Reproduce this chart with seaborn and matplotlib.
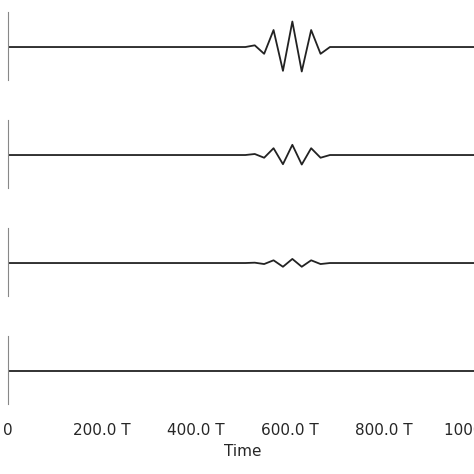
import matplotlib
matplotlib.use("Agg")
import matplotlib.pyplot as plt
import seaborn as sns
import pandas as pd

sns.set_style("white")

# extrema of each wave packet (time in T, amplitude)
times = [0, 505, 525, 545, 565, 585, 605, 625, 645, 665, 685, 1000]
amp_1 = [0, 0, 0.05, -0.2, 0.5, -0.7, 0.75, -0.72, 0.5, -0.2, 0, 0]
amp_2 = [0, 0, 0.03, -0.08, 0.2, -0.27, 0.3, -0.28, 0.2, -0.08, 0, 0]
amp_3 = [0, 0, 0.01, -0.03, 0.08, -0.11, 0.12, -0.11, 0.08, -0.03, 0, 0]
amp_4 = [0] * len(times)
series = [amp_1, amp_2, amp_3, amp_4]

tick_vals = [0, 200, 400, 600, 800, 1000]
tick_labels = ["0", "200.0 T", "400.0 T", "600.0 T", "800.0 T", "1000.0 T"]

fig = plt.figure(figsize=(4.74, 4.74), dpi=100)
tops = [12, 120, 228, 336]
for i, (top, amp) in enumerate(zip(tops, series)):
    ax = fig.add_axes([8 / 474, 1 - (top + 68) / 474, 470 / 474, 68 / 474])
    df = pd.DataFrame({"t": times, "a": amp})
    sns.lineplot(data=df, x="t", y="a", ax=ax, color="#222222", linewidth=1.3)
    ax.set_xlim(0, 1000)
    ax.set_ylim(-0.97, 1.03)
    ax.set_yticks([])
    ax.set_ylabel("")
    for s in ["top", "right", "bottom"]:
        ax.spines[s].set_visible(False)
    ax.spines["left"].set_color("#888888")
    ax.spines["left"].set_linewidth(0.8)
    if i < 3:
        ax.set_xticks([])
        ax.set_xlabel("")
    else:
        ax.set_xticks(tick_vals)
        ax.set_xticklabels(tick_labels, fontsize=11)
        ax.tick_params(axis="x", length=0, pad=14)
        ax.set_xlabel("Time", fontsize=11, labelpad=4)

fig.savefig("out.png", dpi=100)
